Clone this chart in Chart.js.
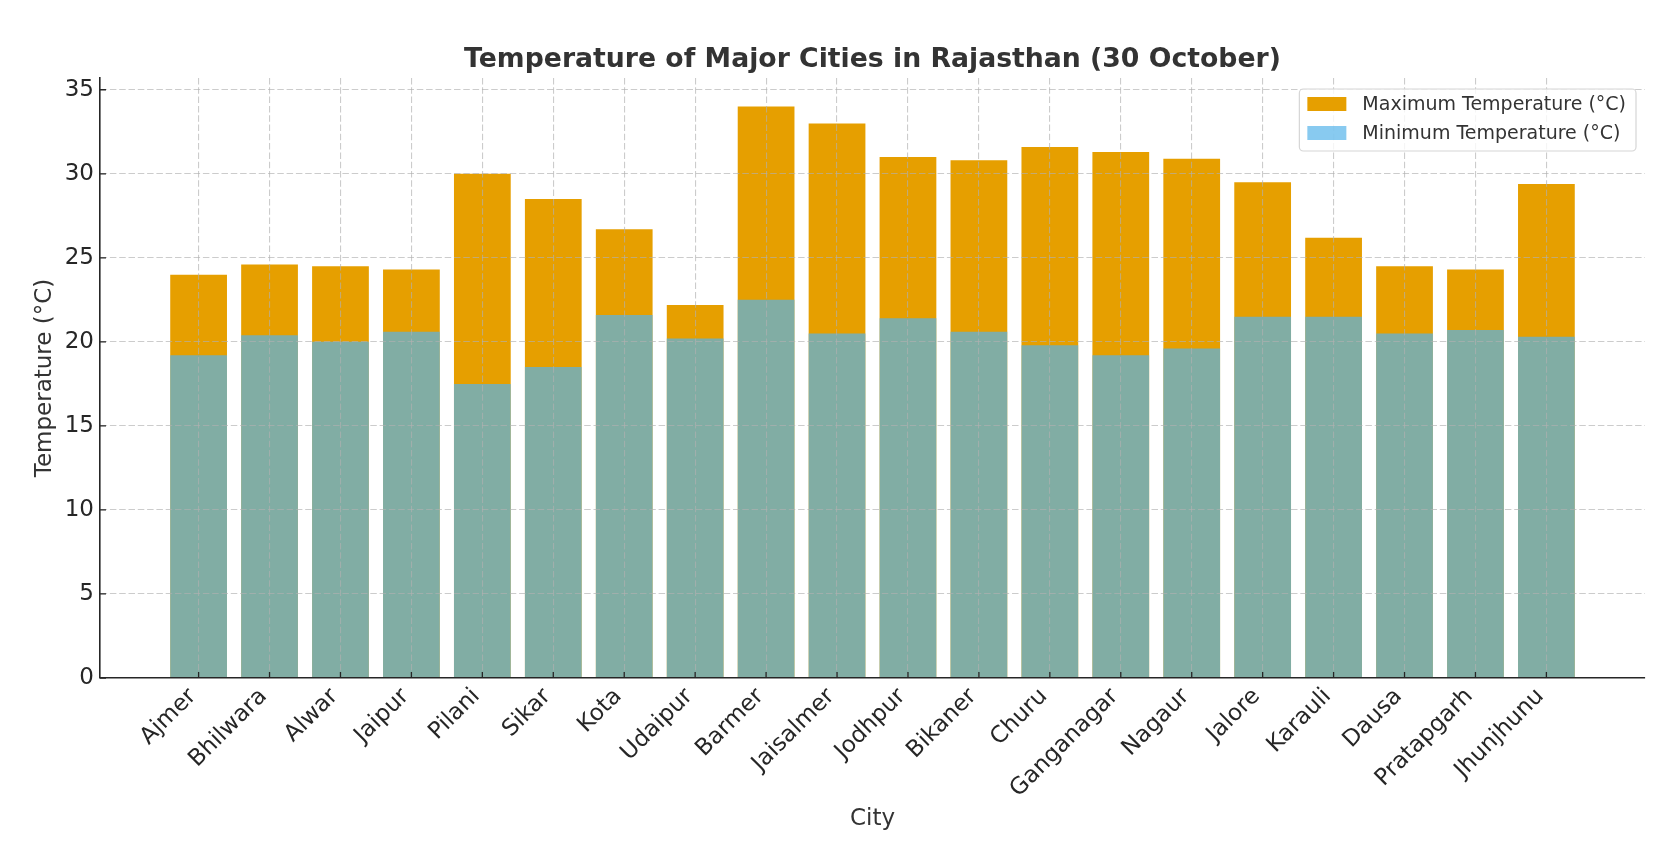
<!DOCTYPE html>
<html>
<head>
<meta charset="utf-8">
<title>Temperature of Major Cities in Rajasthan</title>
<script src="https://cdn.jsdelivr.net/npm/chart.js@4.4.0/dist/chart.umd.min.js"></script>
<style>
    html, body { margin: 0; padding: 0; background: #ffffff; }
    #wrap { width: 1674px; height: 848px; }
</style>
</head>
<body>
<div id="wrap"><canvas id="chart" width="1674" height="848"></canvas></div>
<script>
// --- datos ---
const cities = ['Ajmer', 'Bhilwara', 'Alwar', 'Jaipur', 'Pilani', 'Sikar', 'Kota', 'Udaipur', 'Barmer', 'Jaisalmer',
    'Jodhpur', 'Bikaner', 'Churu', 'Ganganagar', 'Nagaur', 'Jalore', 'Karauli', 'Dausa', 'Pratapgarh', 'Jhunjhunu'];
const maxTemps = [24.0, 24.6, 24.5, 24.3, 30.0, 28.5, 26.7, 22.2, 34.0, 33.0,
    31.0, 30.8, 31.6, 31.3, 30.9, 29.5, 26.2, 24.5, 24.3, 29.4];
const minTemps = [19.2, 20.4, 20.0, 20.6, 17.5, 18.5, 21.6, 20.2, 22.5, 20.5,
    21.4, 20.6, 19.8, 19.2, 19.6, 21.5, 21.5, 20.5, 20.7, 20.3];
const yTicks = [0, 5, 10, 15, 20, 25, 30, 35];

const TITLE = 'Temperature of Major Cities in Rajasthan (30 October)';
const FONT = "'DejaVu Sans', 'Liberation Sans', sans-serif";
const GRID_COLOR = 'rgba(176, 176, 176, 0.65)';
const AXIS_COLOR = '#262626';

// título, marcas de tick hacia dentro y leyenda dentro del área
const decorations = {
    id: 'decorations',
    afterDraw(chart) {
        const { ctx, chartArea, scales } = chart;
        ctx.save();

        // marcas de los ticks (dirección "in")
        ctx.strokeStyle = AXIS_COLOR;
        ctx.lineWidth = 1.3;
        ctx.beginPath();
        yTicks.forEach(v => {
            const y = scales.y.getPixelForValue(v);
            ctx.moveTo(chartArea.left, y);
            ctx.lineTo(chartArea.left + 6, y);
        });
        cities.forEach((_, i) => {
            const x = scales.x.getPixelForValue(i);
            ctx.moveTo(x, chartArea.bottom);
            ctx.lineTo(x, chartArea.bottom - 6);
        });
        ctx.stroke();

        // título
        ctx.fillStyle = '#333333';
        ctx.font = `bold 26.7px ${FONT}`;
        ctx.textAlign = 'center';
        ctx.textBaseline = 'alphabetic';
        ctx.fillText(TITLE, (chartArea.left + chartArea.right) / 2, 67);

        // leyenda
        const items = chart.data.datasets;
        ctx.font = `19px ${FONT}`;
        const textW = Math.max(...items.map(d => ctx.measureText(d.label).width));
        const boxW = 8 + 39 + 16 + textW + 10;
        const boxH = 62;
        const bx = chartArea.right - 9 - boxW;
        const by = chartArea.top + 11;
        ctx.beginPath();
        if (ctx.roundRect) ctx.roundRect(bx, by, boxW, boxH, 4);
        else ctx.rect(bx, by, boxW, boxH);
        ctx.fillStyle = 'rgba(255, 255, 255, 0.8)';
        ctx.fill();
        ctx.strokeStyle = '#d6d6d6';
        ctx.lineWidth = 1.2;
        ctx.stroke();

        ctx.textAlign = 'left';
        ctx.textBaseline = 'middle';
        items.forEach((d, i) => {
            const cy = by + 15 + i * 29;
            ctx.fillStyle = d.backgroundColor;
            ctx.fillRect(bx + 8, cy - 7, 39, 14);
            ctx.fillStyle = '#333333';
            ctx.fillText(d.label, bx + 8 + 39 + 16, cy + 1);
        });

        ctx.restore();
    }
};

const ctx = document.getElementById('chart').getContext('2d');

new Chart(ctx, {
    type: 'bar',
    data: {
        datasets: [
            {
                label: 'Maximum Temperature (°C)',
                data: maxTemps.map((v, i) => ({ x: i, y: v })),
                backgroundColor: '#E69F00',
                order: 1
            },
            {
                label: 'Minimum Temperature (°C)',
                data: minTemps.map((v, i) => ({ x: i, y: v })),
                backgroundColor: 'rgba(86, 180, 233, 0.7)',
                order: 0
            }
        ]
    },
    options: {
        responsive: false,
        animation: false,
        devicePixelRatio: 1,
        layout: { padding: { top: 78, right: 29, bottom: 0, left: 0 } },
        datasets: {
            bar: { grouped: false, categoryPercentage: 1, barPercentage: 0.8, borderWidth: 0 }
        },
        plugins: {
            legend: { display: false },
            title: { display: false },
            tooltip: { enabled: false }
        },
        scales: {
            x: {
                type: 'linear',
                min: -1.39,
                max: 20.39,
                offset: false,
                afterBuildTicks: axis => { axis.ticks = cities.map((_, i) => ({ value: i })); },
                afterFit: axis => { axis.height = 170; },
                ticks: {
                    callback: value => cities[value],
                    autoSkip: false,
                    minRotation: 45,
                    maxRotation: 45,
                    padding: 5,
                    labelOffset: -6,
                    color: AXIS_COLOR,
                    font: { family: FONT, size: 23 }
                },
                grid: { color: GRID_COLOR, lineWidth: 1.1, drawTicks: false, offset: false, z: 1 },
                border: { color: AXIS_COLOR, width: 1.6, dash: [6.5, 2.8], z: 2 },
                title: {
                    display: true,
                    text: 'City',
                    color: '#333333',
                    font: { family: FONT, size: 23 },
                    padding: { top: 4, bottom: 15 }
                }
            },
            y: {
                min: 0,
                max: 35.7,
                afterBuildTicks: axis => { axis.ticks = yTicks.map(v => ({ value: v })); },
                afterFit: axis => { axis.width = 100; },
                ticks: {
                    padding: 6,
                    color: AXIS_COLOR,
                    font: { family: FONT, size: 23 }
                },
                grid: { color: GRID_COLOR, lineWidth: 1.1, drawTicks: false, z: 1 },
                border: { color: AXIS_COLOR, width: 1.6, dash: [6.5, 2.8], z: 2 },
                title: {
                    display: true,
                    text: 'Temperature (°C)',
                    color: '#333333',
                    font: { family: FONT, size: 23 },
                    padding: { top: 31, bottom: 0 }
                }
            }
        }
    },
    plugins: [decorations]
});
</script>
</body>
</html>
